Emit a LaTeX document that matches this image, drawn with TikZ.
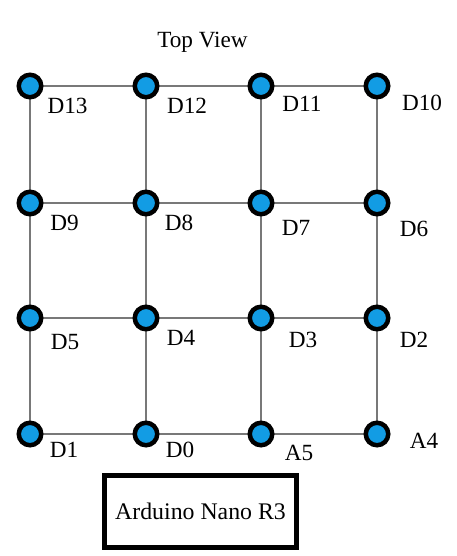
\documentclass[tikz,border=0pt]{standalone}
\usepackage{fontspec}
\setmainfont{Liberation Serif}
\definecolor{pinblue}{RGB}{18,156,228}
\definecolor{wiregray}{RGB}{120,120,120}
\begin{document}
\begin{tikzpicture}[x=1pt,y=-1pt,
  pin/.style={circle,draw=black,fill=pinblue,line width=4.5pt,minimum size=22.5pt,inner sep=0pt},
  wire/.style={draw=wiregray,line width=2pt},
  lbl/.style={font=\fontsize{23.2}{27}\selectfont,inner sep=0pt,anchor=center},
  board/.style={draw=black,line width=5pt,minimum width=192pt,minimum height=72pt,inner sep=0pt,font=\fontsize{23.8}{27}\selectfont}]
\useasboundingbox (0,0) rectangle (456,556);
\fill[white] (0,0) rectangle (456,556);
% pins
\foreach \n/\x/\y in {p13/30/86,p12/146/86,p11/261/86,p10/377/86,
                      p9/30/203,p8/146/203,p7/261/203,p6/377/203,
                      p5/30/318,p4/146/318,p3/261/318,p2/377/318,
                      p1/30/434,p0/146/434,pa5/261/434,pa4/377/434}
  \coordinate (c\n) at (\x,\y);
% wires
\draw[wire] (cp13) -- (cp12) -- (cp11) -- (cp10);
\draw[wire] (cp9) -- (cp8) -- (cp7) -- (cp6);
\draw[wire] (cp5) -- (cp4) -- (cp3) -- (cp2);
\draw[wire] (cp1) -- (cp0) -- (cpa5) -- (cpa4);
\draw[wire] (cp13) -- (cp9) -- (cp5) -- (cp1);
\draw[wire] (cp12) -- (cp8) -- (cp4) -- (cp0);
\draw[wire] (cp11) -- (cp7) -- (cp3) -- (cpa5);
\draw[wire] (cp10) -- (cp6) -- (cp2) -- (cpa4);
\foreach \n in {p13,p12,p11,p10,p9,p8,p7,p6,p5,p4,p3,p2,p1,p0,pa5,pa4}
  \node[pin] (\n) at (c\n) {};
% labels
\node[lbl] (l13) at (67.5,106) {D13};
\node[lbl] (l12) at (187,106) {D12};
\node[lbl] (l11) at (302,104) {D11};
\node[lbl] (l10) at (422,103) {D10};
\node[lbl] (l9) at (64.5,223) {D9};
\node[lbl] (l8) at (179,223) {D8};
\node[lbl] (l7) at (296,228) {D7};
\node[lbl] (l6) at (414,229) {D6};
\node[lbl] (l5) at (65,342) {D5};
\node[lbl] (l4) at (181,338) {D4};
\node[lbl] (l3) at (303,340) {D3};
\node[lbl] (l2) at (414,340) {D2};
\node[lbl] (l1) at (64,450) {D1};
\node[lbl] (l0) at (180,450) {D0};
\node[lbl] (la5) at (299,453) {A5};
\node[lbl] (la4) at (424,441) {A4};
\node[lbl,anchor=base] (title) at (202.5,48) {Top View};
\node[board] (nano) at (200.5,511.5) {Arduino Nano R3};
\end{tikzpicture}
\end{document}
